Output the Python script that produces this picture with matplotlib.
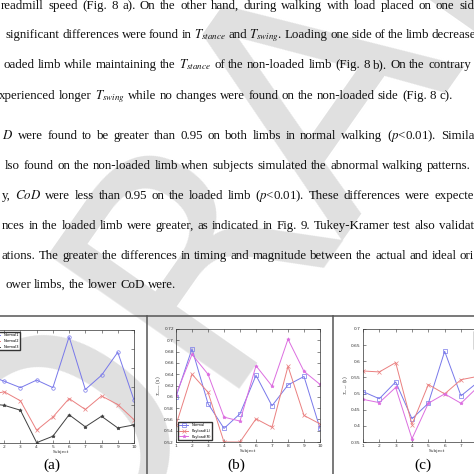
import matplotlib
matplotlib.use('Agg')
import matplotlib.pyplot as plt
from matplotlib.lines import Line2D

plt.rcParams['mathtext.fontset'] = 'stix'

W = H = 474

# ---- page text (visible part of the cropped page) ----
text_lines = [
    "readmill speed (Fig. 8 a).  On the other hand, during walking with load placed on one sid",
    "significant differences were found in $T_{stance}$ and $T_{swing}$. Loading one side of the limb decrease",
    "oaded limb while maintaining the $T_{stance}$ of the non-loaded limb (Fig. 8 b). On the contrary",
    "xperienced longer $T_{swing}$ while no changes were found on the non-loaded side (Fig. 8 c).",
    "$D$ were found to be greater than 0.95 on both limbs in normal walking ($p$<0.01). Simila",
    "lso found on the non-loaded limb when subjects simulated the abnormal walking patterns.",
    "y, $CoD$ were less than 0.95 on the loaded limb ($p$<0.01). These differences were expecte",
    "nces in the loaded limb were greater, as indicated in Fig. 9. Tukey-Kramer test also validat",
    "ations. The greater the differences in timing and magnitude between the actual and ideal ori",
    "ower limbs, the lower CoD were.",
]
line_base = [9, 38, 68, 99, 139, 169, 199, 229, 259, 288]
line_start = [1, 6, 3, -1, 2, 5, 2, 2, 2, 5]
line_end = [474, 476, 471, None, 474, 471, 474, 474, 474, None]

# ---- Fig. 8 data ----
subjects = [1, 2, 3, 4, 5, 6, 7, 8, 9, 10]
xtick_labels = ['1', '2', '3', '4', '5', '6', '7', '8', '9', '10']

a_names = ['Normal1', 'Normal2', 'Normal3']
a_speed1 = [1.180, 1.164, 1.147, 1.167, 1.147, 1.282, 1.142, 1.180, 1.241, 1.114]
a_speed2 = [1.127, 1.136, 1.112, 1.034, 1.069, 1.118, 1.089, 1.125, 1.102, 1.062]
a_speed3 = [1.105, 1.100, 1.087, 1.001, 1.018, 1.075, 1.043, 1.071, 1.040, 1.048]
a_yticks = [1.0, 1.05, 1.1, 1.15, 1.2, 1.25, 1.3]

b_names = ['Normal', 'Payload(L)', 'Payload(R)']
b_normal = [0.600, 0.685, 0.588, 0.544, 0.570, 0.638, 0.584, 0.621, 0.636, 0.544]
b_load_l = [0.550, 0.640, 0.608, 0.520, 0.520, 0.561, 0.546, 0.654, 0.567, 0.552]
b_load_r = [0.604, 0.675, 0.640, 0.564, 0.557, 0.655, 0.619, 0.702, 0.645, 0.622]
b_yticks = [0.52, 0.54, 0.56, 0.58, 0.60, 0.62, 0.64, 0.66, 0.68, 0.70, 0.72]
b_ylabels = ['0.52', '0.54', '0.56', '0.58', '0.6', '0.62', '0.64', '0.66', '0.68', '0.7', '0.72']

c_names = ['Normal', 'Payload(L)', 'Payload(R)']
c_normal = [0.506, 0.484, 0.536, 0.422, 0.470, 0.631, 0.493, 0.534, 0.520, 0.500]
c_load_l = [0.570, 0.567, 0.596, 0.404, 0.528, 0.499, 0.543, 0.553, 0.560, 0.540]
c_load_r = [0.482, 0.472, 0.519, 0.360, 0.470, 0.499, 0.470, 0.519, 0.500, 0.490]
c_yticks = [0.35, 0.4, 0.45, 0.5, 0.55, 0.6, 0.65, 0.7]
c_ylabels = ['0.35', '0.4', '0.45', '0.5', '0.55', '0.6', '0.65', '0.7']

BLUE = '#7878ea'
RED = '#ea8080'
MAG = '#dc6ee0'
BLK = '#404040'


def px_axes(fig, left, right, top, bottom):
    return fig.add_axes([left / W, 1 - bottom / H, (right - left) / W, (bottom - top) / H])


def style_axes(ax):
    ax.patch.set_alpha(0)
    for sp in ax.spines.values():
        sp.set_linewidth(0.5)
        sp.set_color('#333333')
    ax.tick_params(direction='in', length=2, width=0.4, labelsize=3.2,
                   top=True, right=True, pad=1.5, colors='#333333')
    ax.set_xlim(1, 10)
    ax.set_xticks(subjects)
    ax.set_xticklabels(xtick_labels)
    ax.set_xlabel('Subject', fontsize=3.2, labelpad=1, color='#333333')


def put_line(fig, renderer, y, x0, x1, s, size):
    words = s.split()
    texts = [fig.text(0, 1 - y / H, w, fontsize=size, family='Liberation Serif',
                      va='baseline', ha='left', color='#111111') for w in words]
    widths = [t.get_window_extent(renderer).width for t in texts]
    if x1 is None:
        gap = size * 100 / 72 * 0.25
    else:
        gap = (x1 - x0 - sum(widths)) / (len(words) - 1)
    x = x0
    for t, w in zip(texts, widths):
        t.set_x(x / W)
        x += w + gap


fig = plt.figure(figsize=(4.74, 4.74), dpi=100)
renderer = fig.canvas.get_renderer()

# watermark
fig.text(67 / W, 1 - 589 / H, 'DRAFT', rotation=55, rotation_mode='anchor', fontsize=230,
         color='#e0e0e0', ha='left', va='baseline', family='DejaVu Sans', zorder=-5)

for s, yb, x0, x1 in zip(text_lines, line_base, line_start, line_end):
    put_line(fig, renderer, yb, x0, x1, s, 9.3)

# separators
fig.add_artist(Line2D([0, 1], [1 - 316 / H] * 2, color='#555555', lw=1.1))
fig.add_artist(Line2D([147 / W] * 2, [0, 1 - 316 / H], color='#555555', lw=1.1))
fig.add_artist(Line2D([333 / W] * 2, [0, 1 - 316 / H], color='#555555', lw=1.1))

# (a)
ax = px_axes(fig, -12, 134, 330, 443)
style_axes(ax)
ax.plot(subjects, a_speed1, '-o', color=BLUE, lw=0.7, ms=2.5, mfc='none', mew=0.5, label=a_names[0])
ax.plot(subjects, a_speed2, '-x', color=RED, lw=0.7, ms=2.5, mew=0.5, label=a_names[1])
ax.plot(subjects, a_speed3, '-*', color=BLK, lw=0.7, ms=2.5, mew=0.5, label=a_names[2])
ax.set_ylim(1.0, 1.3)
ax.set_yticks(a_yticks)
ax.legend(loc='upper left', fontsize=2.6, handlelength=2.5, borderpad=0.4,
          labelspacing=0.5, fancybox=False, edgecolor='#333333', framealpha=1)
fig.text(52 / W, 1 - 465 / H, '(a)', fontsize=11, family='Liberation Serif', ha='center', va='center')

# (b)
ax = px_axes(fig, 176, 320, 329, 442)
style_axes(ax)
ax.plot(subjects, b_normal, '-s', color=BLUE, lw=0.7, ms=2.5, mfc='none', mew=0.5, label=b_names[0])
ax.plot(subjects, b_load_l, '-x', color=RED, lw=0.7, ms=2.5, mew=0.5, label=b_names[1])
ax.plot(subjects, b_load_r, '-*', color=MAG, lw=0.7, ms=2.5, mew=0.5, label=b_names[2])
ax.set_ylim(0.52, 0.72)
ax.set_yticks(b_yticks)
ax.set_yticklabels(b_ylabels)
ax.set_ylabel('$T_{stance}$ (s)', fontsize=3.4, labelpad=1, color='#333333')
ax.legend(loc='lower left', fontsize=2.6, handlelength=2.5, borderpad=0.4,
          labelspacing=0.5, fancybox=False, edgecolor='#333333', framealpha=1)
fig.text(236 / W, 1 - 465 / H, '(b)', fontsize=11, family='Liberation Serif', ha='center', va='center')

# (c)
ax = px_axes(fig, 363, 510, 329, 442)
style_axes(ax)
ax.plot(subjects, c_normal, '-s', color=BLUE, lw=0.7, ms=2.5, mfc='none', mew=0.5, label=c_names[0])
ax.plot(subjects, c_load_l, '-x', color=RED, lw=0.7, ms=2.5, mew=0.5, label=c_names[1])
ax.plot(subjects, c_load_r, '-*', color=MAG, lw=0.7, ms=2.5, mew=0.5, label=c_names[2])
ax.set_ylim(0.35, 0.7)
ax.set_yticks(c_yticks)
ax.set_yticklabels(c_ylabels)
ax.set_ylabel('$T_{swing}$ (s)', fontsize=3.4, labelpad=1, color='#333333')
ax.legend(loc='upper right', fontsize=2.6, handlelength=2.5, borderpad=0.4,
          labelspacing=0.5, fancybox=False, edgecolor='#333333', framealpha=1)
fig.text(423 / W, 1 - 465 / H, '(c)', fontsize=11, family='Liberation Serif', ha='center', va='center')

fig.savefig('out.png', dpi=100)
